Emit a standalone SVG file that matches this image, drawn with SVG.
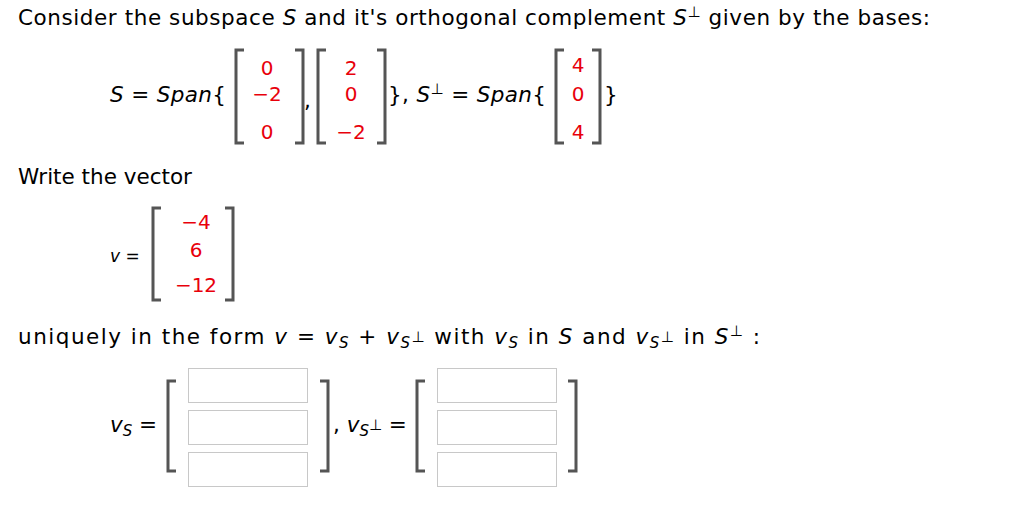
<svg xmlns="http://www.w3.org/2000/svg" width="1024" height="511" viewBox="0 0 1024 511">
<style>
text{font-family:"DejaVu Sans",Verdana,sans-serif;font-size:21.5px;fill:#000}
.i{font-style:italic}
.r{fill:#e8000b;text-anchor:middle;font-size:20px}
.b{fill:none;stroke:#555;stroke-width:3}
.box{fill:#fff;stroke:#c8c8c8;stroke-width:1}
.s{font-size:15px}
</style>
<rect width="1024" height="511" fill="#fff"/>
<text x="18" y="25" textLength="912" lengthAdjust="spacing">Consider the subspace <tspan class="i">S</tspan>  and it's orthogonal complement <tspan class="i">S</tspan><tspan class="s" dy="-8">⊥</tspan><tspan dy="8">  given by the bases:</tspan></text>
<text x="110" y="102" textLength="116" lengthAdjust="spacing"><tspan class="i">S</tspan> = <tspan class="i">Span</tspan>{</text>
<path class="b" d="M244,50h-8v93h8M295,50h8v93h-8"/>
<text x="304" y="108">,</text>
<path class="b" d="M326,50h-8v93h8M377,50h8v93h-8"/>
<text class="r" x="267" y="75">0</text><text class="r" x="267" y="101">−2</text><text class="r" x="267" y="139">0</text>
<text class="r" x="351" y="75">2</text><text class="r" x="351" y="101">0</text><text class="r" x="351" y="139">−2</text>
<text x="388" y="102" textLength="158" lengthAdjust="spacing">}, <tspan class="i">S</tspan><tspan class="s" dy="-8">⊥</tspan><tspan dy="8"> = </tspan><tspan class="i">Span</tspan>{</text>
<path class="b" d="M564,50h-8v93h8M592,50h8v93h-8"/>
<text class="r" x="578" y="72">4</text><text class="r" x="578" y="101">0</text><text class="r" x="578" y="139">4</text>
<text x="604" y="102">}</text>
<text x="18" y="184">Write the vector</text>
<text x="110" y="262" class="i" style="font-size:17px">v <tspan style="font-style:normal">=</tspan></text>
<path class="b" d="M161,208h-8v92h8M225,208h8v92h-8"/>
<text class="r" x="196" y="229">−4</text><text class="r" x="196" y="257">6</text><text class="r" x="196" y="292">−12</text>
<text x="18" y="344" textLength="742" lengthAdjust="spacing">uniquely in the form <tspan class="i">v</tspan> = <tspan class="i">v</tspan><tspan class="i s" dy="4">S</tspan><tspan dy="-4"> + </tspan><tspan class="i">v</tspan><tspan class="i s" dy="4">S</tspan><tspan class="s" dy="-6">⊥</tspan><tspan dy="2">  with </tspan><tspan class="i">v</tspan><tspan class="i s" dy="4">S</tspan><tspan dy="-4">  in </tspan><tspan class="i">S</tspan>  and <tspan class="i">v</tspan><tspan class="i s" dy="4">S</tspan><tspan class="s" dy="-6">⊥</tspan><tspan dy="2">  in </tspan><tspan class="i">S</tspan><tspan class="s" dy="-8">⊥</tspan><tspan dy="8"> :</tspan></text>
<text x="110" y="432" class="i">v<tspan class="s" dy="4">S</tspan><tspan dy="-4" style="font-style:normal"> =</tspan></text>
<path class="b" d="M176,381h-8v90h8M320,381h8v90h-8"/>
<rect class="box" x="188.5" y="368.5" width="119" height="34"/>
<rect class="box" x="188.5" y="410.5" width="119" height="34"/>
<rect class="box" x="188.5" y="452.5" width="119" height="34"/>
<text x="333" y="432">, <tspan class="i">v</tspan><tspan class="i s" dy="4">S</tspan><tspan class="s" dy="-6">⊥</tspan><tspan dy="2"> =</tspan></text>
<path class="b" d="M425,381h-8v90h8M568,381h8v90h-8"/>
<rect class="box" x="437.5" y="368.5" width="119" height="34"/>
<rect class="box" x="437.5" y="410.5" width="119" height="34"/>
<rect class="box" x="437.5" y="452.5" width="119" height="34"/>
</svg>
